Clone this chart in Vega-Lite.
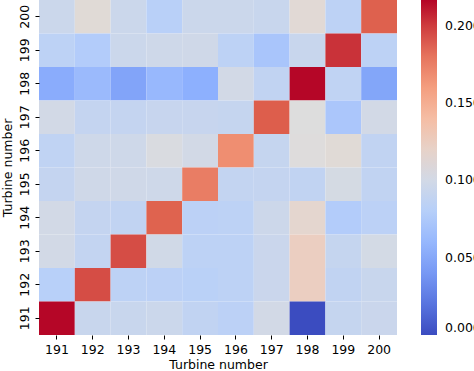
{
  "$schema": "https://vega.github.io/schema/vega-lite/v6.json",
  "autosize": "none",
  "padding": {"left": 39, "top": 0, "right": 77, "bottom": 36},
  "width": 358,
  "height": 335,
  "background": "white",
  "config": {
    "font": "DejaVu Sans",
    "view": {"stroke": null},
    "axis": {"labelFont": "DejaVu Sans", "titleFont": "DejaVu Sans", "labelFontSize": 12.5, "titleFontSize": 12.5, "titleFontWeight": "normal", "labelColor": "black", "titleColor": "black", "tickColor": "black", "domain": false, "grid": false, "tickSize": 4, "labelPadding": 4},
    "legend": {"labelFont": "DejaVu Sans", "labelFontSize": 12.5, "labelColor": "black"}
  },
  "data": {"values": [
    {"x":191,"y":200,"v":0.095},{"x":192,"y":200,"v":0.112},{"x":193,"y":200,"v":0.095},{"x":194,"y":200,"v":0.082},{"x":195,"y":200,"v":0.095},{"x":196,"y":200,"v":0.095},{"x":197,"y":200,"v":0.093},{"x":198,"y":200,"v":0.113},{"x":199,"y":200,"v":0.085},{"x":200,"y":200,"v":0.189},
    {"x":191,"y":199,"v":0.085},{"x":192,"y":199,"v":0.078},{"x":193,"y":199,"v":0.095},{"x":194,"y":199,"v":0.097},{"x":195,"y":199,"v":0.098},{"x":196,"y":199,"v":0.085},{"x":197,"y":199,"v":0.072},{"x":198,"y":199,"v":0.093},{"x":199,"y":199,"v":0.203},{"x":200,"y":199,"v":0.085},
    {"x":191,"y":198,"v":0.052},{"x":192,"y":198,"v":0.063},{"x":193,"y":198,"v":0.047},{"x":194,"y":198,"v":0.061},{"x":195,"y":198,"v":0.054},{"x":196,"y":198,"v":0.100},{"x":197,"y":198,"v":0.088},{"x":198,"y":198,"v":0.216},{"x":199,"y":198,"v":0.087},{"x":200,"y":198,"v":0.048},
    {"x":191,"y":197,"v":0.100},{"x":192,"y":197,"v":0.090},{"x":193,"y":197,"v":0.090},{"x":194,"y":197,"v":0.092},{"x":195,"y":197,"v":0.092},{"x":196,"y":197,"v":0.091},{"x":197,"y":197,"v":0.190},{"x":198,"y":197,"v":0.108},{"x":199,"y":197,"v":0.073},{"x":200,"y":197,"v":0.100},
    {"x":191,"y":196,"v":0.087},{"x":192,"y":196,"v":0.097},{"x":193,"y":196,"v":0.097},{"x":194,"y":196,"v":0.105},{"x":195,"y":196,"v":0.100},{"x":196,"y":196,"v":0.168},{"x":197,"y":196,"v":0.091},{"x":198,"y":196,"v":0.109},{"x":199,"y":196,"v":0.112},{"x":200,"y":196,"v":0.088},
    {"x":191,"y":195,"v":0.090},{"x":192,"y":195,"v":0.098},{"x":193,"y":195,"v":0.098},{"x":194,"y":195,"v":0.097},{"x":195,"y":195,"v":0.176},{"x":196,"y":195,"v":0.089},{"x":197,"y":195,"v":0.090},{"x":198,"y":195,"v":0.088},{"x":199,"y":195,"v":0.102},{"x":200,"y":195,"v":0.088},
    {"x":191,"y":194,"v":0.100},{"x":192,"y":194,"v":0.090},{"x":193,"y":194,"v":0.088},{"x":194,"y":194,"v":0.188},{"x":195,"y":194,"v":0.084},{"x":196,"y":194,"v":0.085},{"x":197,"y":194,"v":0.096},{"x":198,"y":194,"v":0.116},{"x":199,"y":194,"v":0.078},{"x":200,"y":194,"v":0.084},
    {"x":191,"y":193,"v":0.100},{"x":192,"y":193,"v":0.089},{"x":193,"y":193,"v":0.195},{"x":194,"y":193,"v":0.099},{"x":195,"y":193,"v":0.085},{"x":196,"y":193,"v":0.085},{"x":197,"y":193,"v":0.094},{"x":198,"y":193,"v":0.124},{"x":199,"y":193,"v":0.091},{"x":200,"y":193,"v":0.101},
    {"x":191,"y":192,"v":0.081},{"x":192,"y":192,"v":0.195},{"x":193,"y":192,"v":0.085},{"x":194,"y":192,"v":0.084},{"x":195,"y":192,"v":0.083},{"x":196,"y":192,"v":0.085},{"x":197,"y":192,"v":0.094},{"x":198,"y":192,"v":0.124},{"x":199,"y":192,"v":0.088},{"x":200,"y":192,"v":0.093},
    {"x":191,"y":191,"v":0.216},{"x":192,"y":191,"v":0.093},{"x":193,"y":191,"v":0.093},{"x":194,"y":191,"v":0.095},{"x":195,"y":191,"v":0.088},{"x":196,"y":191,"v":0.084},{"x":197,"y":191,"v":0.100},{"x":198,"y":191,"v":0.000},{"x":199,"y":191,"v":0.091},{"x":200,"y":191,"v":0.094}
  ]},
  "mark": {"type": "rect"},
  "encoding": {
    "x": {"field": "x", "type": "ordinal", "title": "Turbine number", "axis": {"labelAngle": 0, "titleY": 36, "titleBaseline": "bottom"}},
    "y": {"field": "y", "type": "ordinal", "sort": "descending", "title": "Turbine number", "axis": {"labelAngle": 270, "labelAlign": "center", "labelBaseline": "bottom", "titleX": -25, "titleBaseline": "bottom"}},
    "color": {
      "field": "v", "type": "quantitative",
      "scale": {"domain": [0, 0.2165], "range": ["#3b4cc0", "#6282ea", "#8db0fe", "#b8d0f9", "#dddddd", "#f5c4ad", "#f49a7b", "#de604d", "#b40426"], "interpolate": "rgb"},
      "legend": {"title": null, "orient": "none", "legendX": 382, "legendY": 0, "direction": "vertical", "gradientLength": 335, "gradientThickness": 16, "gradientStrokeWidth": 0, "values": [0, 0.05, 0.1, 0.15, 0.2], "format": ".3f", "labelOffset": 8, "labelBaseline": "middle"}
    }
  }
}
